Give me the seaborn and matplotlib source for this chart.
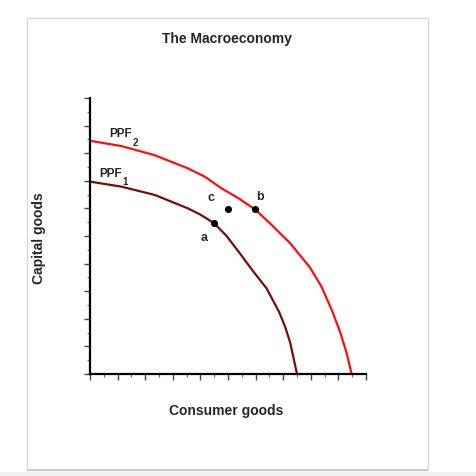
import matplotlib
matplotlib.use("Agg")
import matplotlib.pyplot as plt
from matplotlib.patches import Rectangle
from matplotlib.ticker import MultipleLocator
import seaborn as sns
import pandas as pd

# ---- data ----
ppf1_x = [0, 1.13, 2.34, 3.55, 3.99, 4.49, 4.95, 5.43, 5.92, 6.40, 6.85, 7.07, 7.25, 7.39, 7.5]
ppf1_y = [6.97, 6.79, 6.49, 6.0, 5.78, 5.47, 5.0, 4.37, 3.71, 3.1, 2.25, 1.71, 1.15, 0.51, 0]
ppf2_x = [0, 1.13, 2.34, 3.55, 4.16, 4.76, 5.36, 5.97, 6.52, 7.25, 7.97, 8.39, 8.76, 9.06, 9.30, 9.48]
ppf2_y = [8.45, 8.26, 7.93, 7.45, 7.15, 6.73, 6.38, 5.97, 5.46, 4.74, 3.86, 3.16, 2.32, 1.53, 0.75, 0]
point_labels = ["a", "c", "b"]
point_x = [4.49, 5.0, 5.97]
point_y = [5.47, 5.97, 5.97]
curve_names = ["PPF", "PPF"]
curve_subs = ["1", "2"]
title = "The Macroeconomy"
xlabel = "Consumer goods"
ylabel = "Capital goods"

sns.set_style("white")
plt.rcParams["font.family"] = ["Liberation Sans", "DejaVu Sans"]

W, H = 477, 476
fig = plt.figure(figsize=(W / 100, H / 100), dpi=100)
fig.patch.set_facecolor("white")

def fx(px):
    return px / W

def fy(py):
    return 1 - py / H

# outer frame
fig.add_artist(Rectangle((fx(27), fy(470)), (428 - 27) / W, (470 - 18) / H,
                         transform=fig.transFigure, facecolor="white",
                         edgecolor="#d8d8d8", lw=1.0, zorder=0))
fig.add_artist(Rectangle((fx(27), fy(471)), (428 - 27) / W, 2 / H,
                         transform=fig.transFigure, facecolor="#c8c8c8",
                         edgecolor="none", zorder=0))
fig.add_artist(Rectangle((0, 0), 1, 4 / H, transform=fig.transFigure,
                         facecolor="#f0f0f0", edgecolor="none", zorder=0))

ax = fig.add_axes([fx(90), fy(374), 276 / W, 276 / H])
ax.set_facecolor("none")

df1 = pd.DataFrame({"x": ppf1_x, "y": ppf1_y})
df2 = pd.DataFrame({"x": ppf2_x, "y": ppf2_y})
sns.lineplot(data=df1, x="x", y="y", sort=False, color="#7b0a0a", lw=1.6, ax=ax,
             clip_on=False, solid_joinstyle="round")
sns.lineplot(data=df2, x="x", y="y", sort=False, color="#ff0d0d", lw=1.6, ax=ax,
             clip_on=False, solid_joinstyle="round")
dfp = pd.DataFrame({"x": point_x, "y": point_y, "label": point_labels})
sns.scatterplot(data=dfp, x="x", y="y", color="black", s=26, edgecolor="black",
                linewidth=0, ax=ax, zorder=5, clip_on=False)

ax.set_xlim(0, 10)
ax.set_ylim(0, 10)
for sp in ["top", "right"]:
    ax.spines[sp].set_visible(False)
for sp in ["left", "bottom"]:
    ax.spines[sp].set_linewidth(1.6)
    ax.spines[sp].set_color("black")
ax.xaxis.set_major_locator(MultipleLocator(1))
ax.xaxis.set_minor_locator(MultipleLocator(0.5))
ax.yaxis.set_major_locator(MultipleLocator(1))
ax.yaxis.set_minor_locator(MultipleLocator(0.5))
ax.tick_params(axis="both", which="major", direction="out", length=4.5, width=1.0,
               color="#444444", labelbottom=False, labelleft=False, bottom=True, left=True)
ax.tick_params(axis="both", which="minor", direction="out", length=2.2, width=0.8,
               color="#666666", bottom=True, left=True)
ax.set_xlabel("")
ax.set_ylabel("")

# label offsets (in points) for the points
offsets = {"a": (-7, -11), "c": (-12, 8), "b": (4, 9)}
for lab, x, y in zip(point_labels, point_x, point_y):
    dx, dy = offsets[lab]
    ax.annotate(lab, (x, y), xytext=(dx, dy), textcoords="offset points",
                ha="center", va="center", fontsize=9, fontweight="bold")

# curve labels with subscripts
label_pos = [(99, 176.7), (109.5, 137.3)]
for name, sub, (px, py) in zip(curve_names, curve_subs, label_pos):
    t = fig.text(fx(px), fy(py), name, ha="left", va="baseline",
                 fontsize=8.5, fontweight="bold")
    ax.annotate(sub, xy=(1, 0), xycoords=t, xytext=(0.6, -3.9),
                textcoords="offset points", ha="left", va="baseline",
                fontsize=7, fontweight="bold")

fig.text(fx(227), fy(39), title, ha="center", va="center", fontsize=10, fontweight="bold")
fig.text(fx(226), fy(411), xlabel, ha="center", va="center", fontsize=10, fontweight="bold")
fig.text(fx(39), fy(238), ylabel, ha="center", va="center", fontsize=10,
         fontweight="bold", rotation=90)

fig.savefig("out.png", dpi=100)
